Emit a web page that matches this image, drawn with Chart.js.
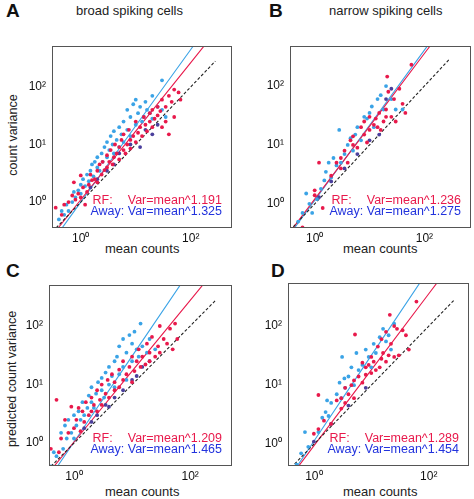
<!DOCTYPE html>
<html><head><meta charset="utf-8">
<script src="https://cdn.jsdelivr.net/npm/chart.js@4.4.1/dist/chart.umd.min.js"></script>
<style>
body{margin:0;background:#fff;width:474px;height:499px;position:relative;overflow:hidden;font-family:"Liberation Sans",Arial,sans-serif}
canvas{position:absolute}
.t{position:absolute;font-size:13px;color:#222;white-space:nowrap}
.L{position:absolute;font-size:19px;font-weight:bold;color:#111}
.yt{position:absolute;font-size:12.5px;color:#222;transform:rotate(-90deg);transform-origin:center;white-space:nowrap}
</style></head><body>
<div class="L" style="left:6px;top:0px">A</div>
<div class="t" style="left:76px;top:3px">broad spiking cells</div>
<div class="L" style="left:269px;top:0px">B</div>
<div class="t" style="left:329px;top:3px">narrow spiking cells</div>
<div class="L" style="left:6px;top:260px">C</div>
<div class="L" style="left:271px;top:260px">D</div>
<div class="yt" style="left:-32px;top:128px;width:90px;text-align:center">count  variance</div>
<div class="yt" style="left:-63px;top:372px;width:150px;text-align:center">predicted count variance</div>
<div class="t" style="left:105px;top:241px">mean counts</div>
<div class="t" style="left:343px;top:241px">mean counts</div>
<div class="t" style="left:105px;top:484px">mean counts</div>
<div class="t" style="left:343px;top:484px">mean counts</div>
<canvas id="cA"></canvas><canvas id="cB"></canvas><canvas id="cC"></canvas><canvas id="cD"></canvas>
<script>
// ---- data: [mean counts, variance] ----
const redA=[[0.35,0.8],[0.45,0.6],[0.5,0.9],[0.6,1.0],[0.7,1.3],[0.75,2.2],[0.8,1.1],[0.9,1.4],[1.0,2.9],[1.0,1.2],[1.1,1.8],[1.2,0.9],[1.3,1.5],[1.4,2.0],[1.5,3.0],[1.6,2.4],[1.8,2.5],[2.0,3.5],[2.0,2.2],[2.2,4.5],[2.4,3.0],[2.5,5.0],[2.7,3.6],[3.0,4.0],[3.0,6.5],[3.3,5.0],[3.5,8.0],[3.8,4.5],[4.0,6.0],[4.2,10],[4.5,7],[5,9],[5,5.5],[5.5,12],[6,8],[6,15],[6.5,7],[7,10],[7.5,18],[8,12],[8,8.5],[9,14],[10,25],[10,11],[11,16],[12,20],[13,14],[14,30],[15,22],[16,17],[18,35],[18,25],[20,40],[20,20],[22,28],[25,45],[25,32],[28,38],[30,20],[30,60],[35,25],[35,45],[40,70],[40,15],[45,55],[50,30],[50,90],[60,80],[65,60]];
const blueA=[[0.4,0.5],[0.45,0.7],[0.5,0.6],[0.55,0.9],[0.6,0.7],[0.7,1.0],[0.75,1.5],[0.8,1.2],[0.9,1.6],[1.0,2.0],[1.0,1.4],[1.1,2.5],[1.2,1.9],[1.3,3.0],[1.4,2.3],[1.5,3.5],[1.6,4.5],[1.7,2.8],[1.8,5],[2.0,4],[2.0,6],[2.2,3.5],[2.4,7],[2.5,5],[2.7,9],[3,6],[3,11],[3.3,8],[3.5,14],[3.8,10],[4,7],[4,17],[4.5,12],[5,20],[5,9],[5.5,15],[6,25],[6,11],[7,18],[7,40],[8,30],[8,14],[9,50],[10,22],[10,60],[11,35],[12,45],[13,25],[14,30],[15,55],[16,40],[18,35],[20,70],[20,28],[25,45],[30,130],[30,40],[35,30]];
const darkA=[[2,2.5],[3,3.5],[5,7],[8,10],[15,18],[12,9],[20,15],[4,4.5],[25,22],[1.5,1.8]];
const redB=[[0.6,0.4],[1,1.7],[1,1.4],[1.4,0.85],[1.2,5],[2,3],[2.5,5],[3,4],[3,6],[3.5,8],[4,5],[4.5,12],[5,10],[5,14],[6,9],[7,20],[8,15],[8,25],[9,11],[10,18],[10,30],[12,22],[13,28],[14,20],[15,35],[16,18],[18,25],[20,40],[20,30],[22,80],[25,30],[28,60],[21,145],[30,25],[35,90],[40,50],[45,35],[58,230]];
const blueB=[[0.5,0.5],[0.6,0.7],[0.7,1.5],[0.8,1.0],[0.9,0.7],[1.1,1.2],[1.3,1.8],[1.5,2.5],[1.6,3.5],[1.8,5],[2,2.8],[2.2,6],[2.5,4.5],[2.8,18],[3,5],[3.5,7],[4,10],[4.5,13],[5,8],[5.5,15],[6,20],[7,12],[8,30],[9,28],[10,35],[11,45],[12,20],[14,60],[16,70],[18,40],[20,100],[25,60],[30,40],[40,40]];
const darkB=[[1.2,1.3],[2,2.4],[3.5,4],[6,7],[10,12],[15,15],[20,60],[25,90]];
const redC=[[0.4,0.8],[0.5,5.5],[0.55,0.7],[0.6,1.2],[0.7,2.5],[0.8,1.5],[0.9,4.2],[1.0,1.8],[1.1,2.5],[1.2,4.0],[1.3,1.6],[1.4,3.5],[1.5,2.3],[1.6,5],[1.8,3],[2,6],[2,3.5],[2.2,4.5],[2.5,8],[2.5,3.5],[2.8,5.5],[3,10],[3,4.5],[3.5,7],[3.8,12],[4,6],[4.5,15],[5,8],[5,11],[6,18],[6,9],[7,12],[7,25],[8,15],[9,20],[10,11],[10,30],[11,17],[12,25],[13,40],[14,20],[15,30],[17,22],[18,50],[20,35],[20,25],[22,65],[25,30],[28,45],[30,100],[30,35],[35,60],[40,50],[45,90],[50,40],[55,110],[60,60]];
const blueC=[[0.4,0.4],[0.45,0.7],[0.5,0.6],[0.6,1.5],[0.65,0.8],[0.7,2.0],[0.75,1.2],[0.8,2.5],[0.9,1.5],[1.0,3],[1.0,1.2],[1.1,2],[1.2,3.5],[1.3,2.5],[1.4,5],[1.5,3],[1.7,4],[1.8,6.5],[2,5],[2,9],[2.2,4],[2.4,7],[2.6,11],[3,8],[3,13],[3.3,6],[3.5,16],[4,10],[4,20],[4.5,14],[5,25],[5,9],[5.5,30],[6,15],[6,45],[7,20],[7,60],[8,35],[8,12],[9,70],[10,25],[10,50],[11,80],[12,40],[13,30],[14,110],[15,45],[18,35],[20,60],[25,40]];
const darkC=[[1.5,1.8],[2.5,3],[3.5,4.5],[5,6],[7,8],[10,12],[15,20],[20,25],[2,2.3],[4,4.2],[12,14]];
const redD=[[1.0,1.5],[1.2,1.8],[1.2,6.8],[1.5,2.5],[2,2.2],[2.5,5.5],[3,6],[3,4],[3.5,5],[3.5,9],[4,7],[4.5,10],[5,6],[5,12],[6,14],[5.2,72],[7,11],[7,24],[8,15],[8,20],[9,22],[10,30],[10,16],[11,25],[12,18],[13,45],[14,20],[15,60],[15,28],[16,35],[18,25],[18,80],[21,155],[20,32],[22,50],[25,30],[25,100],[28,90],[30,32],[35,85],[40,70],[45,40],[61,260]];
const blueD=[[0.5,0.45],[0.6,0.7],[0.7,1.6],[0.8,0.9],[1.2,1.6],[1.4,2.8],[1.6,3.5],[1.7,5.5],[1.8,3],[2,5],[3.1,30],[3.4,13],[2.5,7],[2.8,11],[3,6],[3.5,9],[4,14],[4.5,20],[5,10],[5.5,35],[6,18],[7,22],[8,40],[9,30],[10,20],[11,50],[12,35],[14,65],[16,90],[18,55],[20,70],[22,40],[25,110]];
const darkD=[[0.5,0.4],[1,1.1],[2,2.2],[4,4.5],[8,9]];
const panels=["A","B","C","D"];
const rfExp=["1.191","1.236","1.209","1.289"];
const awayExp=["1.325","1.275","1.465","1.454"];
const rfLogIntercept=[0.04,0.08,0.02,-0.03];
const awayLogIntercept=[0.0,0.06,0.02,0.05];
const xTickLabels={1:"10\u2070",100:"10\u00b2"};
const yTickLabels={1:"10\u2070",10:"10\u00b9",100:"10\u00b2"};

const RED='#e8194b',BLUE='#3aa3e6',DARK='#4a3f9c';
const layoutP=[
 {id:'cA',left:0,top:0,w:237,h:262,a:[52,46,232,228],x:[-0.46,2.75],y:[-0.45,2.71]},
 {id:'cB',left:237,top:0,w:237,h:262,a:[53,46,236,228],x:[-0.45,2.85],y:[-0.41,2.68]},
 {id:'cC',left:0,top:250,w:237,h:249,a:[49,35,232,216],x:[-0.43,2.72],y:[-0.39,2.70]},
 {id:'cD',left:237,top:250,w:237,h:249,a:[51,33,232,216],x:[-0.45,2.70],y:[-0.37,2.73]}];
const sets=[[redA,blueA,darkA],[redB,blueB,darkB],[redC,blueC,darkC],[redD,blueD,darkD]];
const toPts=a=>a.map(p=>({x:p[0],y:p[1]}));
function fit(k,b){return [0.2,1,10,100,2000].map(x=>({x:x,y:Math.pow(10,b)*Math.pow(x,k)}));}

panels.forEach((P,i)=>{
 const L=layoutP[i];const cv=document.getElementById(L.id);
 cv.style.left=L.left+'px';cv.style.top=L.top+'px';cv.style.width=L.w+'px';cv.style.height=L.h+'px';
 cv.width=L.w;cv.height=L.h;
 const [al,at,ar,ab]=L.a;
 const sc=(d,col)=>({type:'scatter',data:toPts(d),backgroundColor:col,borderWidth:0,pointRadius:1.9,pointHoverRadius:0});
 const ln=(d,col,dash)=>({type:'line',data:d,borderColor:col,borderWidth:1.1,pointRadius:0,borderDash:dash||[],fill:false,tension:0});
 const deco={id:'deco'+P,afterDatasetsDraw(c){
   const ctx=c.ctx,ca=c.chartArea;ctx.save();
   ctx.strokeStyle='#555';ctx.lineWidth=1;ctx.strokeRect(ca.left+0.5,ca.top+0.5,ca.width-1,ca.height-1);
   ctx.font='12.5px "Liberation Sans", Arial, sans-serif';ctx.textBaseline='middle';
   const away='Away: Var=mean^'+awayExp[i];const w=ctx.measureText(away).width;
   const x0=ca.right-10-w;
   ctx.fillStyle='#2233dd';ctx.fillText(away,x0,ca.bottom-16);
   ctx.fillStyle=RED;ctx.fillText('RF:',x0+2,ca.bottom-27);
   ctx.textAlign='right';ctx.fillText('Var=mean^'+rfExp[i],x0+w,ca.bottom-27);
   ctx.restore();}};
 new Chart(cv,{data:{datasets:[
   sc(sets[i][0],RED),sc(sets[i][1],BLUE),sc(sets[i][2],DARK),
   ln([{x:0.2,y:0.2},{x:280,y:280}],'#222',[3,2]),
   ln(fit(parseFloat(rfExp[i]),rfLogIntercept[i]),RED),
   ln(fit(parseFloat(awayExp[i]),awayLogIntercept[i]),BLUE)]},
  options:{responsive:false,animation:false,devicePixelRatio:1,
   layout:{padding:{left:0,top:at,right:L.w-ar,bottom:0}},
   plugins:{legend:{display:false},tooltip:{enabled:false}},
   scales:{
    x:{type:'logarithmic',min:Math.pow(10,L.x[0]),max:Math.pow(10,L.x[1]),grid:{display:false,drawTicks:false},border:{display:false},
      afterFit(s){s.height=L.h-ab;},
      ticks:{autoSkip:false,maxRotation:0,color:'#111',font:{size:12,family:'Liberation Sans'},padding:3,callback:v=>xTickLabels[v]||''}},
    y:{type:'logarithmic',min:Math.pow(10,L.y[0]),max:Math.pow(10,L.y[1]),grid:{display:false,drawTicks:false},border:{display:false},
      afterFit(s){s.width=al;},
      ticks:{autoSkip:false,color:'#111',font:{size:12,family:'Liberation Sans'},padding:6,callback:v=>yTickLabels[v]||''}}}},
  plugins:[deco]});
});
</script></body></html>
